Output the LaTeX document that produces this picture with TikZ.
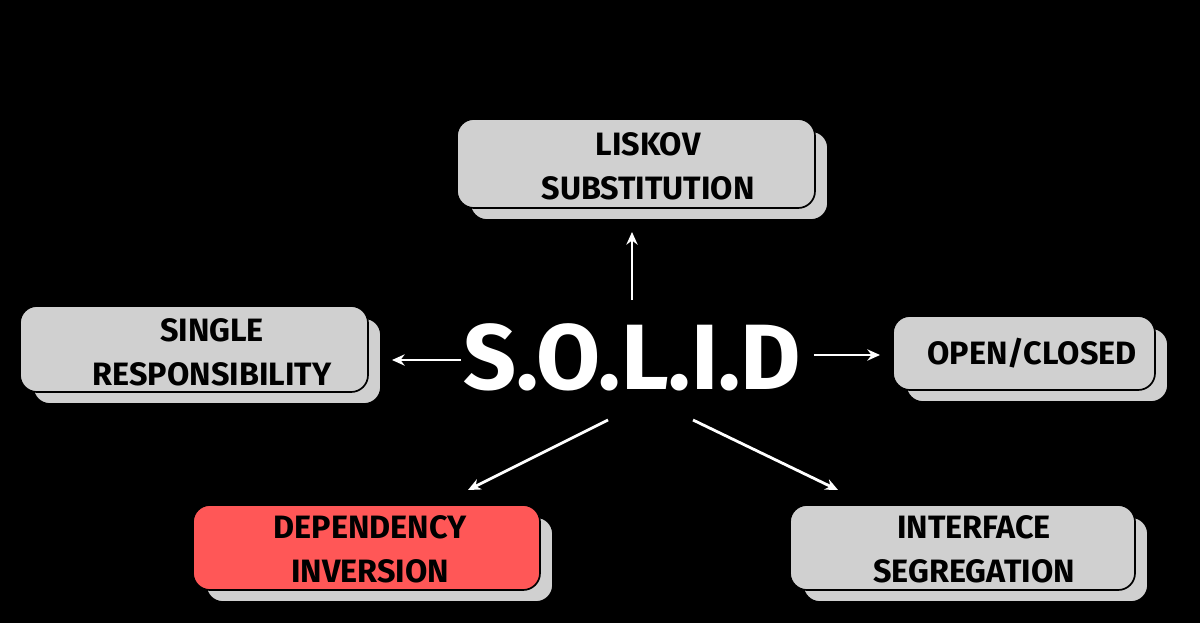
\documentclass[tikz,border=0pt]{standalone}
\usepackage{fontspec}
\setmainfont{Fira Sans}
\usetikzlibrary{arrows.meta}
\definecolor{boxgray}{HTML}{D0D0D0}
\definecolor{boxred}{HTML}{FF5757}

\begin{document}
\begin{tikzpicture}[x=0.025cm,y=-0.025cm,
    card/.style={draw=black, line width=1.2pt, rounded corners=12pt, fill=boxgray},
    label/.style={font=\fontsize{23}{31}\selectfont\bfseries, align=center, text=black},
    link/.style={draw=white, line width=2pt, -{Stealth[length=9pt,width=8pt]}}]
    \fill[black] (0,0) rectangle (1200,623);
    \useasboundingbox (0,0) rectangle (1200,623);

    % Cards: shadow first, then front
    \foreach \xa/\ya/\xb/\yb/\col in {457/119/815/208/boxgray, 20/306/368/392/boxgray,
        893/316/1155/390/boxgray, 193/505/540/590/boxred, 790/505/1135/590/boxgray} {
        \draw[card] (\xa+13,\ya+12) rectangle (\xb+13,\yb+12);
        \draw[card, fill=\col] (\xa,\ya) rectangle (\xb,\yb);
    }

    % Labels
    \node[label] (liskov) at (648,166) {LISKOV\\SUBSTITUTION};
    \node[label] (single) at (212,352) {SINGLE\\RESPONSIBILITY};
    \node[label] (open) at (1032,353) {OPEN/CLOSED};
    \node[label] (dep) at (370,549) {DEPENDENCY\\INVERSION};
    \node[label] (iface) at (974,549) {INTERFACE\\SEGREGATION};

    % Centre
    \node[text=white, font=\fontsize{66}{70}\selectfont\bfseries] (solid) at (632,357) {S.O.L.I.D};

    % Arrows
    \coordinate (up) at (632,232);
    \coordinate (left) at (392,360);
    \coordinate (right) at (880,355);
    \coordinate (dl) at (468,490);
    \coordinate (dr) at (838,490);
    \draw[link] (632,300) -- (up);
    \draw[link] (solid.west) ++(3,3) -- (left);
    \draw[link] (solid.east) ++(8,-2) -- (right);
    \draw[link] (608,420) -- (dl);
    \draw[link] (693,420) -- (dr);
\end{tikzpicture}
\end{document}
